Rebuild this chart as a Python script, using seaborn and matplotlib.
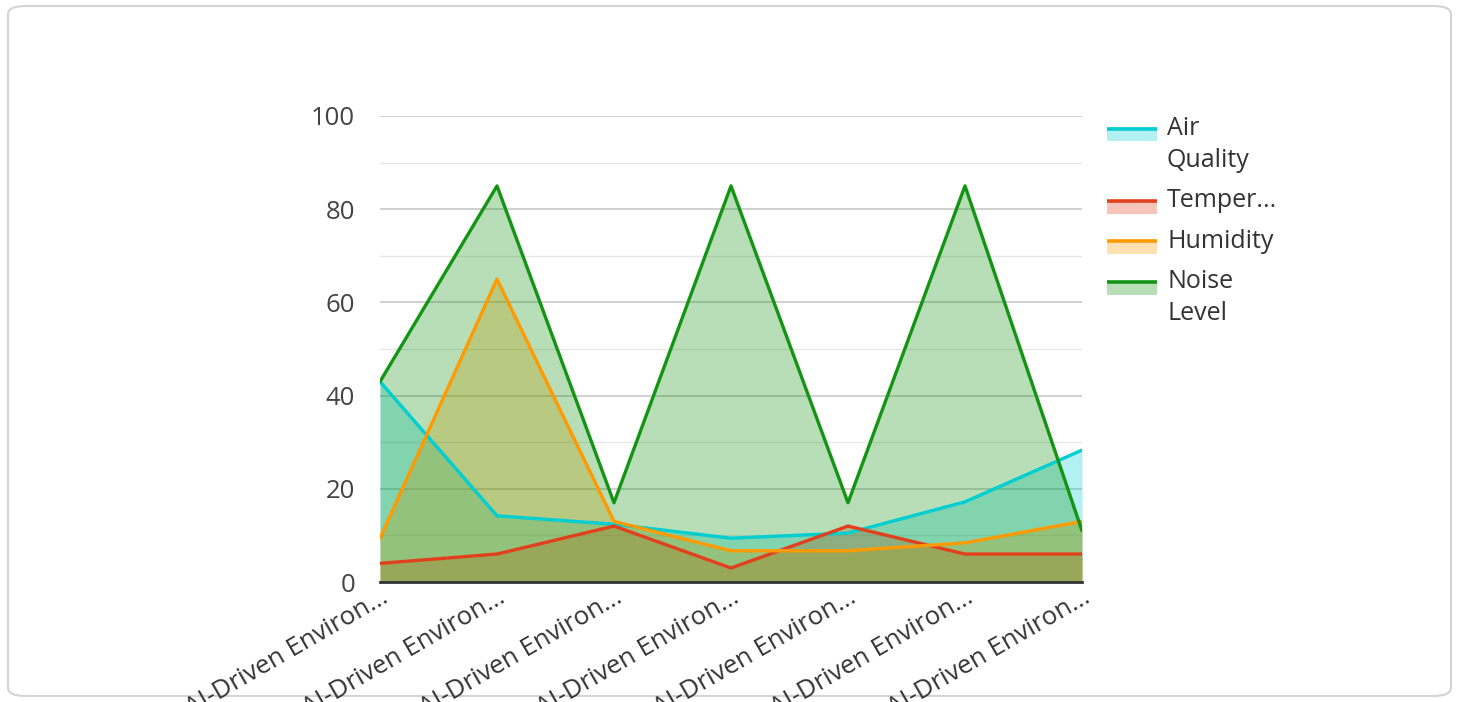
import matplotlib
matplotlib.use("Agg")
import matplotlib.pyplot as plt
import seaborn as sns
import numpy as np
import pandas as pd
from matplotlib.patches import FancyBboxPatch, Rectangle
from matplotlib.lines import Line2D
from matplotlib.legend_handler import HandlerBase
from matplotlib.ticker import MultipleLocator

# ---- data ----
categories = ["AI-Driven Environ..."] * 7
air_quality = [43, 14.2, 12.4, 9.4, 10.5, 17.2, 28.3]
temperature = [4, 6, 12, 3, 12, 6, 6]
humidity = [9.4, 65, 13, 6.7, 6.7, 8.4, 13]
noise_level = [43, 85, 17, 85, 17, 85, 11]
series_names = ["Air\nQuality", "Temper...", "Humidity", "Noise\nLevel"]
series_values = [air_quality, temperature, humidity, noise_level]
colors = ["#00CED1", "#E2401C", "#FF9A00", "#149414"]
y_ticks = [0, 20, 40, 60, 80, 100]

sns.set_theme(style="white")
plt.rcParams["font.family"] = ["Open Sans", "DejaVu Sans"]

W, H = 1458, 702
fig = plt.figure(figsize=(W / 100, H / 100), dpi=100)
fig.patch.set_facecolor("white")

# card border
card = FancyBboxPatch((8 / W, 6 / H), (1451 - 8) / W, (696 - 6) / H,
                      boxstyle="round,pad=0,rounding_size=0.012",
                      transform=fig.transFigure, facecolor="none",
                      edgecolor="#d4d4d4", lw=1.5, zorder=-10)
fig.add_artist(card)

ax = fig.add_axes([380 / W, 1 - 582 / H, (1082 - 380) / W, (582 - 116) / H])
ax.set_facecolor("none")

x = np.arange(len(categories))
rows = []
for name, vals in zip(series_names, series_values):
    for i, v in enumerate(vals):
        rows.append({"x": i, "value": v, "series": name})
df = pd.DataFrame(rows)

for name, vals, c in zip(series_names, series_values, colors):
    ax.fill_between(x, 0, vals, color=c, alpha=0.3, lw=0, zorder=2)

sns.lineplot(data=df, x="x", y="value", hue="series", hue_order=series_names,
             palette=colors, lw=2.4, ax=ax, legend=False, zorder=3,
             estimator=None, sort=False)

ax.set_xlim(0, len(categories) - 1)
ax.set_ylim(0, 100)
ax.set_yticks(y_ticks)
ax.yaxis.set_minor_locator(MultipleLocator(10))
ax.grid(axis="y", which="major", color="#c8c8c8", lw=1.2, zorder=1)
ax.grid(axis="y", which="minor", color="#e6e6e6", lw=1.0, zorder=1)
ax.set_axisbelow(True)
for s in ["top", "right", "left"]:
    ax.spines[s].set_visible(False)
ax.spines["bottom"].set_color("#333333")
ax.spines["bottom"].set_linewidth(2)
ax.spines["bottom"].set_zorder(5)

ax.set_xticks(x)
ax.set_xticklabels(categories, rotation=30, ha="right", rotation_mode="anchor",
                   fontsize=18.5, color="#333333")
ax.tick_params(axis="x", length=0, pad=2)
ax.tick_params(axis="y", which="both", length=0, pad=18, labelsize=18.5,
               labelcolor="#444444")
ax.set_xlabel("")
ax.set_ylabel("")


class FillLineHandler(HandlerBase):
    def create_artists(self, legend, orig_handle, xdescent, ydescent,
                       width, height, fontsize, trans):
        c = orig_handle.get_color()
        nlines = getattr(orig_handle, "_nlines", 1)
        shift = (8 - 19 * (nlines - 1)) * 0.72
        h = 14 * 0.72
        y0 = -ydescent + height / 2 - h / 2 - shift
        rect = Rectangle((-xdescent, y0), width, h, facecolor=c, alpha=0.3,
                         lw=0, transform=trans)
        ln = Line2D([-xdescent, -xdescent + width], [y0 + h - 1, y0 + h - 1],
                    color=c, lw=2.6, transform=trans, solid_capstyle="butt")
        return [rect, ln]


handles = []
for c, name in zip(colors, series_names):
    hdl = Line2D([], [], color=c)
    hdl._nlines = name.count("\n") + 1
    handles.append(hdl)
leg = fig.legend(handles, series_names, loc="upper left",
                 bbox_to_anchor=(1107 / W, 1 - 116 / H),
                 handler_map={Line2D: FillLineHandler()},
                 frameon=False, fontsize=18, handlelength=2.0,
                 handletextpad=0.4, labelspacing=0.62, borderpad=0,
                 borderaxespad=0)
for t in leg.get_texts():
    t.set_color("#333333")
    t.set_linespacing(1.36)

fig.savefig("out.png", dpi=100)
